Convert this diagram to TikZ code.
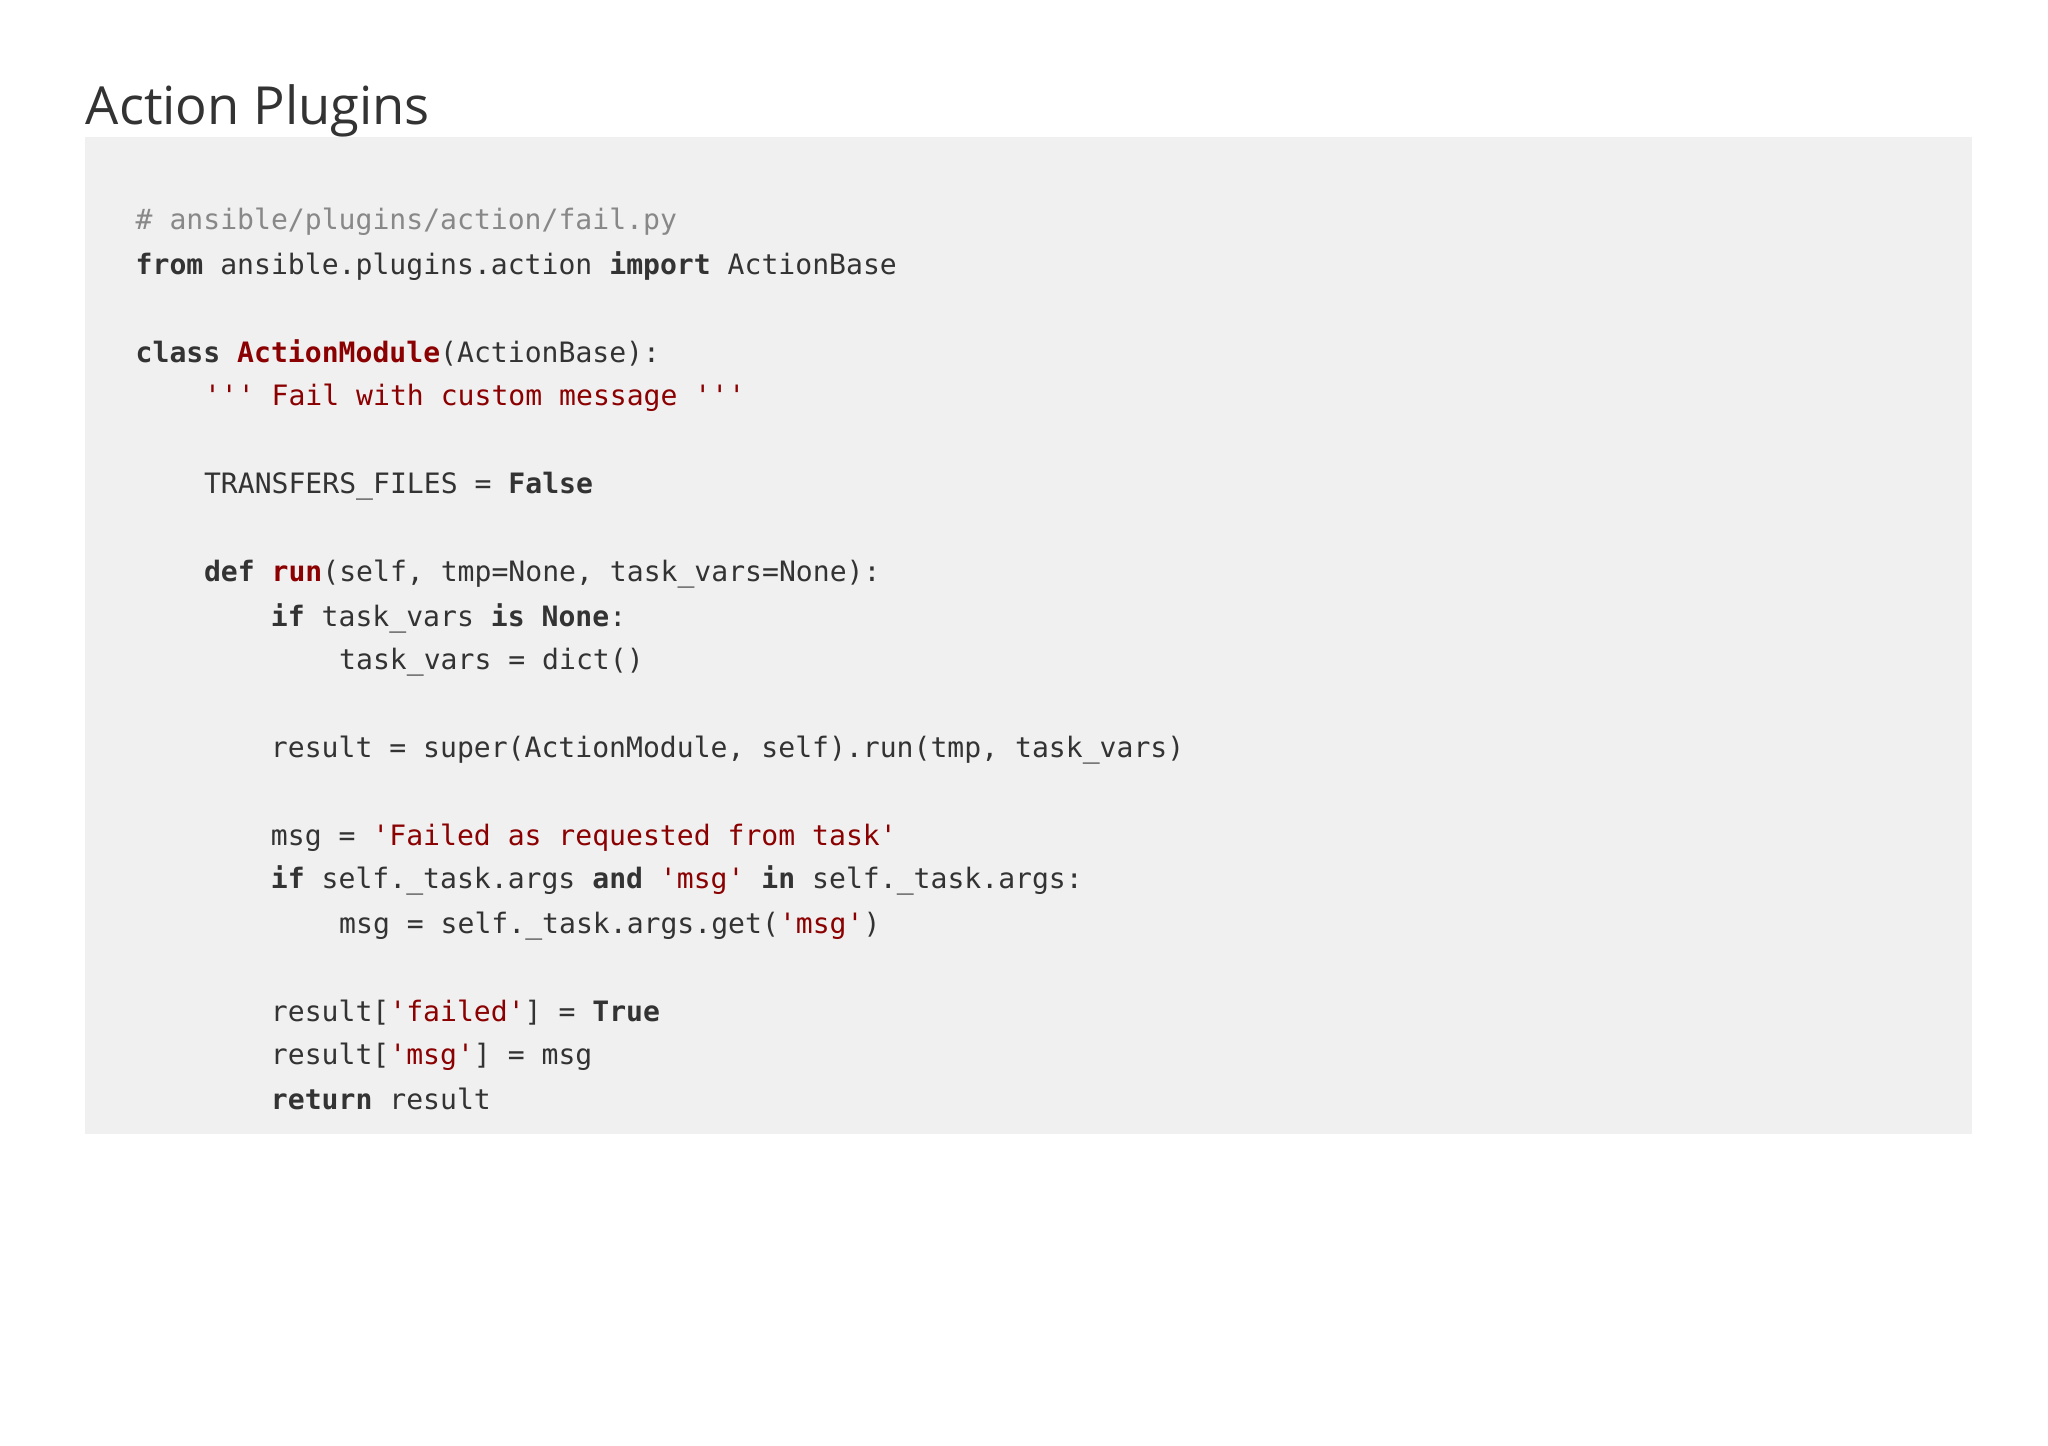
\documentclass[tikz,border=0pt]{standalone}
\usepackage{fontspec}
\setmainfont{Open Sans}
\setmonofont{DejaVu Sans Mono}
\definecolor{bgbox}{HTML}{F0F0F0}
\definecolor{txt}{HTML}{333333}
\definecolor{kw}{HTML}{333333}
\definecolor{strc}{HTML}{8B0000}
\definecolor{cmt}{HTML}{888888}
\newcommand{\K}[1]{\textbf{#1}}
\newcommand{\St}[1]{\textcolor{strc}{#1}}
\newcommand{\Cm}[1]{\textcolor{cmt}{#1}}
\begin{document}
\begin{tikzpicture}[x=0.5pt,y=-0.5pt]
\tikzset{codeline/.style={anchor=base west,inner sep=0pt,text=txt,font=\ttfamily\fontsize{10.7}{12}\selectfont}}
\useasboundingbox (0,0) rectangle (1560,1101);
\fill[white] (0,0) rectangle (1560,1101);
\fill[bgbox] (65,104) rectangle (1502,864);
\node[anchor=base west,inner sep=0pt,text=txt,font=\fontsize{20}{24}\selectfont] (title) at (65,95) {Action Plugins};
\node[codeline] (l1) at (103,175) {\Cm{\# ansible/plugins/action/fail.py}};
\node[codeline] (l2) at (103,209) {\K{from} ansible.plugins.action \K{import} ActionBase};
\node[codeline] (l3) at (103,276) {\K{class} \St{\K{ActionModule}}(ActionBase):};
\node[codeline] (l4) at (155,309) {\St{''' Fail with custom message '''}};
\node[codeline] (l5) at (155,376) {TRANSFERS\_FILES = \K{False}};
\node[codeline] (l6) at (155,443) {\K{def} \St{\K{run}}(self, tmp=None, task\_vars=None):};
\node[codeline] (l7) at (206,477) {\K{if} task\_vars \K{is} \K{None}:};
\node[codeline] (l8) at (258,510) {task\_vars = dict()};
\node[codeline] (l9) at (206,577) {result = super(ActionModule, self).run(tmp, task\_vars)};
\node[codeline] (l10) at (206,644) {msg = \St{'Failed as requested from task'}};
\node[codeline] (l11) at (206,677) {\K{if} self.\_task.args \K{and} \St{'msg'} \K{in} self.\_task.args:};
\node[codeline] (l12) at (258,711) {msg = self.\_task.args.get(\St{'msg'})};
\node[codeline] (l13) at (206,778) {result[\St{'failed'}] = \K{True}};
\node[codeline] (l14) at (206,811) {result[\St{'msg'}] = msg};
\node[codeline] (l15) at (206,845) {\K{return} result};
\end{tikzpicture}
\end{document}
